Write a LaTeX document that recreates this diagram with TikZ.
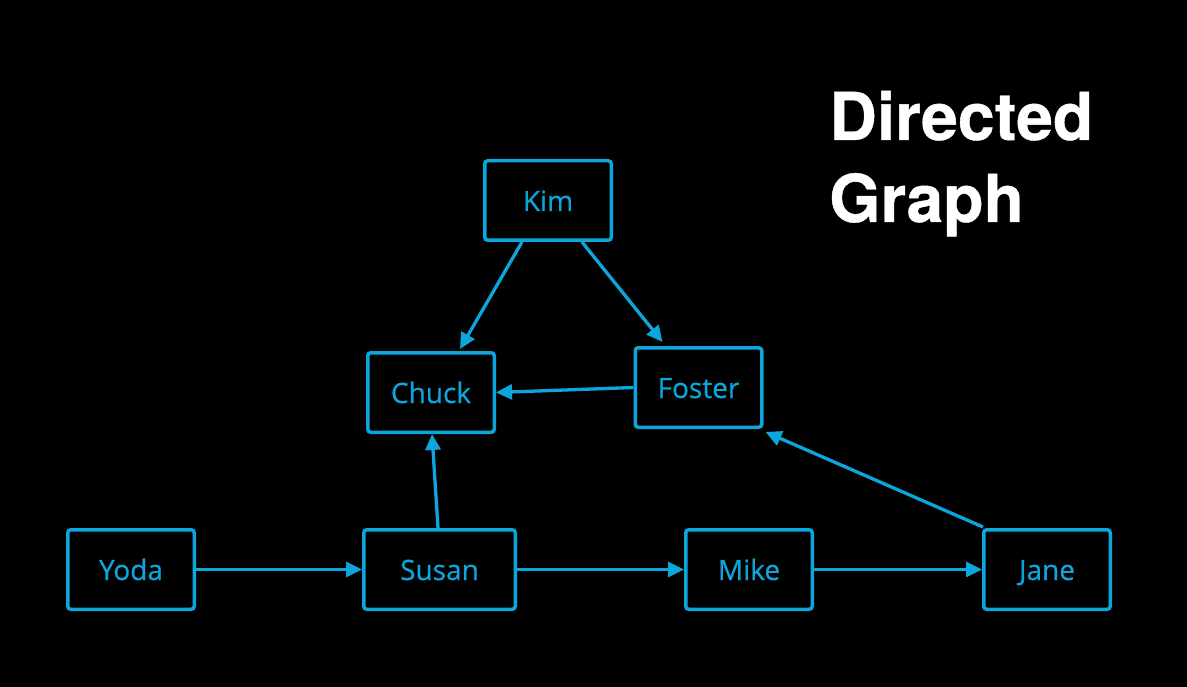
\documentclass[tikz,border=0pt]{standalone}
\usepackage{fontspec}
\setmainfont{Open Sans}
\newfontfamily\nodefont[FakeBold=0.5]{Open Sans}
\newfontfamily\titlefont[FakeBold=0.6]{TeX Gyre Heros}
\usetikzlibrary{arrows.meta}
\definecolor{graphblue}{RGB}{12,166,220}
\tikzset{
  person/.style={draw=graphblue, line width=3.5pt, rounded corners=3pt, fill=black,
    text=graphblue, minimum width=126.5pt, minimum height=79.5pt, inner sep=0pt,
    text height=24pt, text depth=3pt,
    font=\nodefont\fontsize{28}{32}\selectfont},
  edge/.style={draw=graphblue, line width=3.3pt, -{Triangle[length=16pt,width=15pt]}}
}
\begin{document}
\begin{tikzpicture}[x=1pt,y=-1pt]
\useasboundingbox (0,0) rectangle (1187,687);
\fill[black] (0,0) rectangle (1187,687);
\node[anchor=base west, text=white, font=\titlefont\bfseries\fontsize{66}{80}\selectfont, inner sep=0pt] (t1) at (829,140) {Directed};
\node[anchor=base west, text=white, font=\titlefont\bfseries\fontsize{66}{80}\selectfont, inner sep=0pt] (t2) at (829,222) {Graph};
\node[person] (kim) at (548,200.5) {Kim};
\node[person] (chuck) at (431,392.5) {Chuck};
\node[person] (foster) at (698.5,387.5) {Foster};
\node[person] (yoda) at (131,569.5) {Yoda};
\node[person, minimum width=151.5pt] (susan) at (439.5,569.5) {Susan};
\node[person] (mike) at (749,569.5) {Mike};
\node[person] (jane) at (1047,569.5) {Jane};
\draw[edge] ([xshift=-26pt]kim.south) -- ([xshift=29pt,yshift=2pt]chuck.north);
\draw[edge] ([xshift=34pt]kim.south) -- ([xshift=-36pt,yshift=4pt]foster.north);
\draw[edge] (foster.west) -- (chuck.east);
\draw[edge] ([xshift=-1.5pt]susan.north) -- ([xshift=1pt]chuck.south);
\draw[edge] (yoda.east) -- (susan.west);
\draw[edge] (susan.east) -- (mike.west);
\draw[edge] (mike.east) -- (jane.west);
\draw[edge] ([xshift=1pt,yshift=1pt]jane.north west) -- ([xshift=2pt,yshift=-3pt]foster.south east);
\end{tikzpicture}
\end{document}
